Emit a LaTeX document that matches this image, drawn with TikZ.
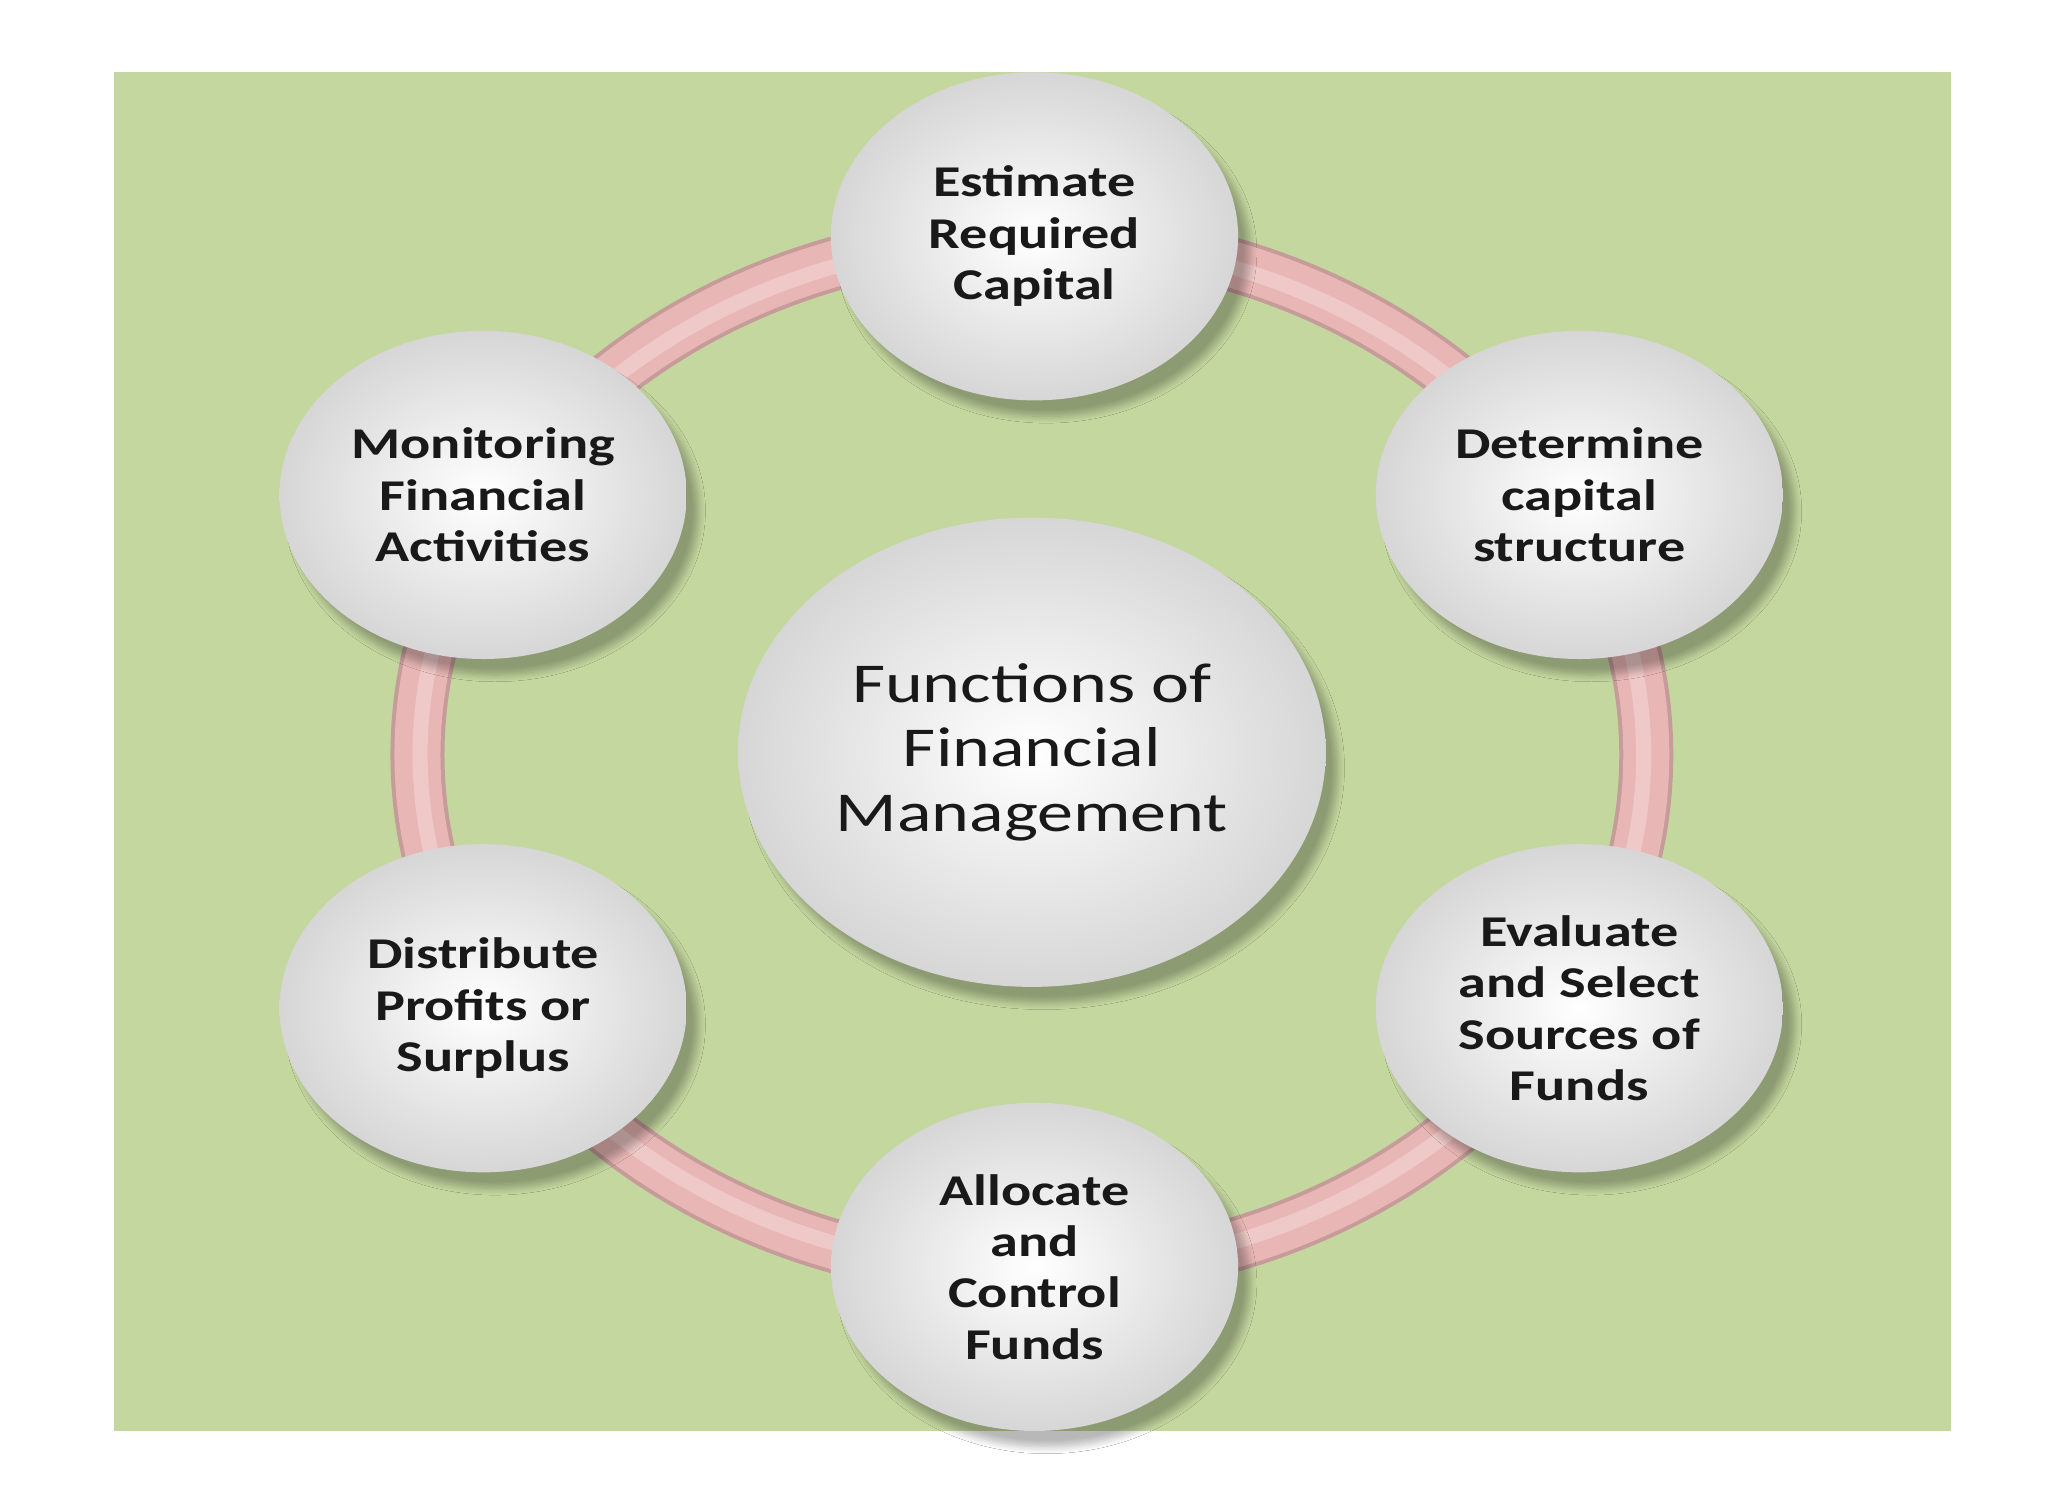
\documentclass[tikz,border=0pt]{standalone}
\usepackage{fontspec}
\setmainfont{Carlito}[FakeStretch=1.28]
\usetikzlibrary{shapes.geometric,shadows.blur}
\definecolor{bg}{HTML}{C4D79F}
\definecolor{ring}{HTML}{E8B7B5}
\tikzset{
  fn/.style={ellipse, minimum width=4.07cm, minimum height=3.28cm, inner color=white, outer color=black!16,
    blur shadow={shadow xshift=0.12cm, shadow yshift=-0.16cm, shadow blur steps=8, shadow opacity=28},
    align=center, font=\fontsize{12.5pt}{14.6pt}\selectfont\bfseries, text=black!90},
  hub/.style={fn, minimum width=5.8cm, minimum height=4.69cm, font=\fontsize{16pt}{18.4pt}\selectfont\mdseries}
}
\begin{document}
\begin{tikzpicture}[x=0.013128cm,y=-0.013128cm]
\useasboundingbox (0,0) rectangle (1560,1134);
\fill[white] (0,0) rectangle (1560,1134);
\fill[bg] (87,55) rectangle (1486,1090);
\draw[ring!85!black, line width=0.54cm] (786,575) ellipse [x radius=468, y radius=395];
\draw[ring, line width=0.46cm] (786,575) ellipse [x radius=468, y radius=395];
\draw[ring!75!white, line width=0.15cm] (786,575) ellipse [x radius=466, y radius=393];
\node[fn] (a) at (788,180) {Estimate\\Required\\Capital};
\node[fn] (b) at (1203,377) {Determine\\capital\\structure};
\node[fn] (c) at (1203,768) {Evaluate\\and Select\\Sources of\\Funds};
\node[fn] (d) at (788,965) {Allocate\\and\\Control\\Funds};
\node[fn] (e) at (368,768) {Distribute\\Profits or\\Surplus};
\node[fn] (f) at (368,377) {Monitoring\\Financial\\Activities};
\node[hub] (h) at (786,573) {Functions of\\Financial\\Management};
\end{tikzpicture}
\end{document}
